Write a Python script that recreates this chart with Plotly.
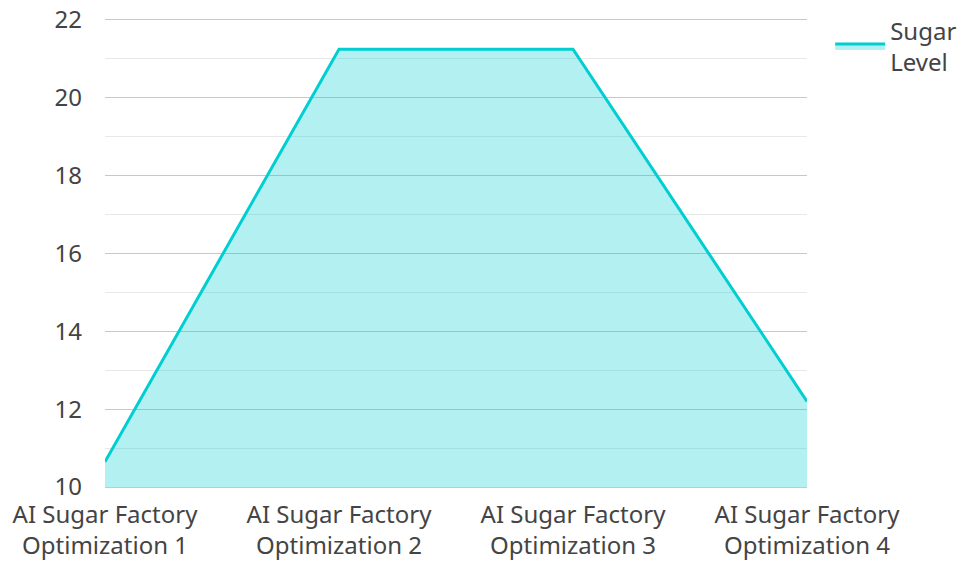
import plotly.graph_objects as go

# Sugar level per optimization run
categories = [
    "AI Sugar Factory<br>Optimization 1",
    "AI Sugar Factory<br>Optimization 2",
    "AI Sugar Factory<br>Optimization 3",
    "AI Sugar Factory<br>Optimization 4",
]
sugar_level = [10.65, 21.25, 21.25, 12.2]

FONT = "Noto Sans, Open Sans, sans-serif"
GRID = "#c8c8c8"

fig = go.Figure()
fig.add_trace(go.Scatter(
    x=categories,
    y=sugar_level,
    mode="lines",
    name="Sugar<br>Level",
    line=dict(color="#00CED1", width=3),
    fill="tozeroy",
    fillcolor="rgba(0,206,209,0.3)",
))

fig.update_layout(
    width=962,
    height=562,
    margin=dict(l=105, r=155, t=20, b=75, autoexpand=False),
    plot_bgcolor="white",
    paper_bgcolor="white",
    font=dict(family=FONT, size=24, color="#444444"),
    showlegend=True,
    legend=dict(x=1.033, y=1.025, xanchor="left", yanchor="top",
                itemwidth=50,
                font=dict(size=24, color="#444444")),
    xaxis=dict(
        showgrid=False,
        # top and bottom edges stand in for the 22 and 10 grid lines
        showline=True,
        mirror=True,
        linecolor=GRID,
        linewidth=1,
        layer="below traces",
        zeroline=False,
        range=[0, 3],
        automargin=False,
        ticklabelstandoff=6,
    ),
    yaxis=dict(
        range=[10, 22],
        dtick=2,
        showgrid=True,
        gridcolor=GRID,
        gridwidth=1,
        zeroline=False,
        showline=False,
        automargin=False,
        ticklabelstandoff=22,
        minor=dict(dtick=1, showgrid=True, gridcolor="#e8e8e8", gridwidth=1),
    ),
)

fig.write_html("out.html")
